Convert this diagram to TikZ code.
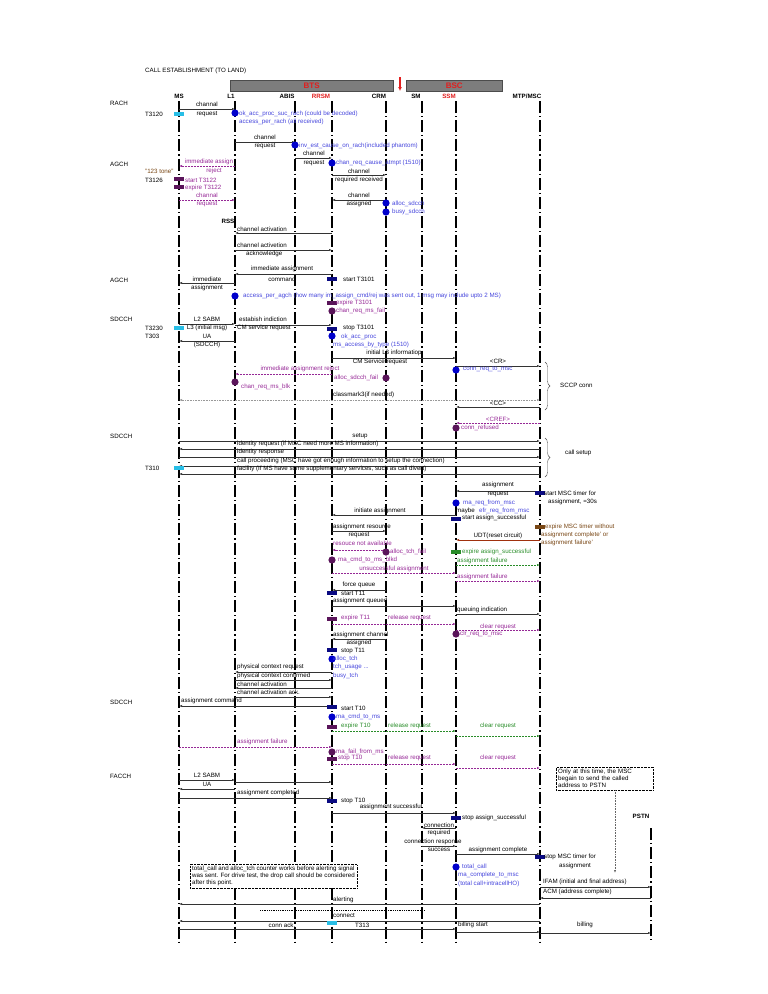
\documentclass[tikz,border=0pt]{standalone}
\usepackage{fontspec}
\setmainfont{Liberation Sans}
\usetikzlibrary{arrows.meta,decorations.pathreplacing}
\definecolor{blueT}{RGB}{70,70,220}
\definecolor{purp}{RGB}{150,40,150}
\definecolor{dpurp}{RGB}{90,20,90}
\definecolor{navy}{RGB}{10,10,130}
\definecolor{grn}{RGB}{40,140,40}
\definecolor{brn}{RGB}{120,70,20}
\definecolor{redH}{RGB}{225,30,30}
\definecolor{cyanB}{RGB}{40,190,230}
\definecolor{hdr}{RGB}{125,125,125}
\tikzset{
 lbl/.style={inner sep=0pt,font=\fontsize{6.2}{7}\selectfont},
 life/.style={line width=1.6pt,dash pattern=on 12pt off 3pt on 1.2pt off 3pt},
 arr/.style={-{Latex[length=3pt,width=2.2pt]},line width=0.6pt,black!80},
 dpu/.style={arr,purp,dashed,dash pattern=on 2pt off 1pt},
 dgr/.style={arr,grn,dashed,dash pattern=on 2pt off 1pt},
}
\newcommand\M[4][]{\draw[arr,#1] (#2 |- 0,#4) -- (#3 |- 0,#4);}
\newcommand\tx[4][]{\node[lbl,anchor=west,#1] at (#2,#3) {#4};}
\newcommand\tc[4][]{\node[lbl,#1] at (#2,#3) {#4};}
\newcommand\tbar[3][navy]{\fill[#1] (#2 |- 0,#3) ++(-5,-2) rectangle ++(10,4);}
\newcommand\tdot[3][blue!80!black]{\fill[#1] (#2 |- 0,#3) circle (3.6);}
\begin{document}
\begin{tikzpicture}[x=1pt,y=-1pt]
\useasboundingbox (0,0) rectangle (768,994);
\coordinate (ms) at (179,0); \coordinate (l1) at (235,0); \coordinate (abis) at (295,0);
\coordinate (rrsm) at (332,0); \coordinate (crm) at (386,0); \coordinate (sm) at (422,0);
\coordinate (ssm) at (456,0); \coordinate (msc) at (540,0); \coordinate (pstn) at (651,0);
% header
\tx{145}{71}{CALL ESTABLISHMENT (TO LAND)}
\node[draw=black!70,fill=hdr,minimum width=163pt,minimum height=11pt,inner sep=0pt,anchor=north west] (bts) at (230,80) {};
\node[draw=black!70,fill=hdr,minimum width=96pt,minimum height=11pt,inner sep=0pt,anchor=north west] (bsc) at (406,80) {};
\node[lbl,text=redH,font=\fontsize{8}{9}\selectfont\bfseries] at (bts) {BTS};
\node[lbl,text=redH,font=\fontsize{8}{9}\selectfont\bfseries] at (bsc) {BSC};
\draw[-{Latex[length=4pt,width=4pt]},redH,line width=1.2pt] (400,77) -- (400,91);
\foreach \n/\x/\c in {MS/179/black,L1/231/black,ABIS/287/black,RRSM/321/redH,CRM/379/black,SM/416/black,SSM/449/redH,{MTP/MSC}/527/black}
  \node[lbl,text=\c,font=\fontsize{6.2}{7}\selectfont\bfseries] at (\x,96) {\n};
\node[lbl,font=\fontsize{6.2}{7}\selectfont\bfseries] at (641,816) {PSTN};
\foreach \l in {ms,l1,abis,rrsm,crm,sm,ssm,msc} \draw[life] (\l |- 0,101) -- (\l |- 0,942);
\draw[life] (pstn |- 0,828) -- (pstn |- 0,942);
% left labels
\tx{110}{103}{RACH} \tx{145}{114}{T3120} \tx{110}{164}{AGCH}
\tx[text=brn]{145}{171}{"123 tone"} \tx{145}{180}{T3126}
\tx{110}{280}{AGCH} \tx{110}{319}{SDCCH} \tx{145}{328}{T3230} \tx{145}{336}{T303}
\tx{110}{436}{SDCCH} \tx{145}{468}{T310} \tx{110}{702}{SDCCH} \tx{110}{776}{FACCH}
% RACH
\M{ms}{l1}{109} \tc{207}{104}{channal} \tc{207}{114}{request}
\tbar[cyanB]{ms}{114}
\tdot{l1}{113} \tx[text=blueT]{239}{114}{ok\_acc\_proc\_suc\_rach (could be decoded)}
\tx[text=blueT]{239}{122}{access\_per\_rach (all received)}
\M{l1}{abis}{142} \tc{265}{137}{channel} \tc{265}{146}{request}
\tdot{abis}{145} \tx[text=blueT]{299}{146}{inv\_est\_cause\_on\_rach(included phantom)}
\M{abis}{rrsm}{158} \tc{314}{153}{channel} \tc{314}{163}{request}
\tdot{rrsm}{163} \tx[text=blueT]{336}{163}{chan\_req\_cause\_atmpt (1510)}
\M[dpu]{l1}{ms}{166} \tc[text=purp]{209}{162}{immediate assign} \tc[text=purp]{214}{171}{reject}
\M{rrsm}{crm}{175} \tc{359}{171}{channel} \tc{359}{180}{required received}
\tbar[dpurp]{ms}{179} \tx[text=purp]{185}{180}{start T3122}
\tbar[dpurp]{ms}{187} \tx[text=purp]{185}{188}{expire T3122}
\M[dpu]{ms}{l1}{200} \tc[text=purp]{207}{195}{channal} \tc[text=purp]{207}{204}{request}
\M{crm}{rrsm}{200} \tc{359}{195}{channel} \tc{359}{204}{assigned}
\tdot{crm}{203} \tx[text=blueT]{392}{204}{alloc\_sdcch}
\tdot{crm}{212} \tx[text=blueT]{392}{212}{busy\_sdcch}
\node[lbl,font=\fontsize{6.2}{7}\selectfont\bfseries] at (228,221) {RSS};
\M{rrsm}{l1}{233} \tx{237}{229}{channel activation}
\M{l1}{rrsm}{250} \tx{237}{245}{channel activetion} \tx{246}{254}{acknowledge}
% AGCH
\M{rrsm}{l1}{274} \tc{282}{269}{immediate assignment} \tc{282}{279}{command}
\tbar{rrsm}{279} \tx{343}{279}{start T3101}
\M{l1}{ms}{283} \tc{207}{279}{immediate} \tc{207}{288}{assignment}
\tdot{l1}{296} \tx[text=blueT]{243}{296}{access\_per\_agch (how many im\_assign\_cmd/rej was sent out, 1 msg may include upto 2 MS)}
\tbar[dpurp]{rrsm}{303} \tx[text=purp]{336}{303}{expire T3101}
\tdot[dpurp]{rrsm}{311} \tx[text=purp]{336}{311}{chan\_req\_ms\_fail}
% SDCCH
\M{ms}{l1}{324} \tc{207}{319}{L2 SABM} \tc{207}{328}{L3 (initial msg)}
\M{l1}{rrsm}{325} \tx{239}{319}{estabish indiction} \tx{237}{328}{CM service request}
\tbar[cyanB]{ms}{328} \tbar{rrsm}{329} \tx{343}{328}{stop T3101}
\M{l1}{ms}{341} \tc{207}{336}{UA} \tc{207}{345}{(SDCCH)}
\tdot{rrsm}{336} \tx[text=blueT]{341}{337}{ok\_acc\_proc} \tx[text=blueT]{333}{345}{ms\_access\_by\_type (1510)}
\M{rrsm}{ssm}{358} \tc{394}{353}{initial L3 informatiop} \tc{380}{362}{CM Service request}
\M{ssm}{msc}{366} \tc{498}{361}{<CR>}
\tdot{ssm}{370} \tx[text=blueT]{463}{369}{conn\_req\_to\_msc}
\M[dpu]{rrsm}{l1}{374} \tc[text=purp]{300}{369}{immediate assignment reject}
\tx[text=purp]{334}{378}{alloc\_sdcch\_fail} \tdot[dpurp]{crm}{378}
\tdot[dpurp]{l1}{382} \tx[text=purp]{241}{387}{chan\_req\_ms\_blk}
\draw[arr,black!40,densely dotted,<->,>={Latex[length=3pt,width=2.2pt]}] (ms |- 0,400) -- (msc |- 0,400);
\tx{333}{395}{classmark3(if needed)}
\M{msc}{ssm}{407} \tc{498}{403}{<CC>}
\draw[decorate,decoration={brace,amplitude=5pt},black!70] (545,362) -- (545,410);
\tx{560}{385}{SCCP conn}
\M[dpu]{msc}{ssm}{423} \tc[text=purp]{498}{419}{<CREF>}
\tdot[dpurp]{ssm}{428} \tx[text=purp]{461}{428}{conn\_refused}
% call setup
\M{ms}{msc}{441} \tc{360}{436}{setup}
\M{msc}{ms}{449} \tx{237}{444}{identity request (if MSC need more MS information)}
\M{ms}{msc}{457} \tx{237}{452}{identity response}
\M{msc}{ms}{466} \tx{237}{461}{call proceeding (MSC have got enough information to setup the connection)}
\M{msc}{ms}{474} \tx{237}{469}{facility (If MS have some supplementary services, such as call divert)}
\tbar[cyanB]{ms}{468}
\draw[decorate,decoration={brace,amplitude=5pt},black!70] (545,438) -- (545,477);
\tx{565}{453}{call setup}
% assignment
\M{msc}{ssm}{491} \tc{498}{485}{assignment} \tc{498}{494}{request}
\tbar{msc}{493} \tx{544}{493}{start MSC timer for} \tx{548}{502}{assignment, =30s}
\tdot{ssm}{503} \tx[text=blueT]{463}{503}{ma\_req\_from\_msc}
\tx{456}{511}{maybe} \tx[text=blueT]{479}{511}{efr\_req\_from\_msc}
\M{ssm}{rrsm}{515} \tc{380}{511}{initiate assignment}
\tbar{ssm}{519} \tx{462}{518}{start assign\_successful}
\M{rrsm}{crm}{531} \tx{333}{527}{assignment resource} \tc{359}{535}{request}
\tbar[brn]{msc}{527} \tx[text=brn]{545}{527}{expire MSC timer without}
\tx[text=brn]{541}{535}{assignment complete' or} \tx[text=brn]{541}{543}{assignment failure'}
\M[brn!70!red]{msc}{ssm}{540} \tc{498}{536}{UDT(reset circuit)}
\M[dpu]{crm}{rrsm}{550} \tx[text=purp]{333}{543}{resouce not available}
\tdot[dpurp]{crm}{552} \tx[text=purp]{390}{552}{alloc\_tch\_fail}
\tdot[dpurp]{rrsm}{560} \tx[text=purp]{338}{560}{ma\_cmd\_to\_ms\_blkd}
\tbar[grn]{ssm}{552} \tx[text=grn]{462}{552}{expire assign\_successful}
\M[dgr]{ssm}{msc}{565} \tx[text=grn]{457}{561}{assignment failure}
\M[dpu]{rrsm}{ssm}{573} \tc[text=purp]{394}{569}{unsuccessful assignment}
\M[dpu]{ssm}{msc}{581} \tx[text=purp]{457}{577}{assignment failure}
\M{crm}{rrsm}{590} \tc{359}{585}{force queue}
\tbar{rrsm}{593} \tx{341}{593}{start T11}
\M{rrsm}{ssm}{606} \tx{333}{601}{assignment queued}
\M{ssm}{msc}{614} \tx{457}{610}{queuing indication}
\tbar[dpurp]{rrsm}{619} \tx[text=purp]{341}{618}{expire T11}
\M[dpu]{rrsm}{ssm}{624} \tx[text=purp]{388}{618}{release request}
\M[dpu]{ssm}{msc}{630} \tc[text=purp]{498}{627}{clear request}
\tdot[dpurp]{ssm}{634} \tx[text=purp]{460}{634}{clr\_req\_to\_msc}
\M{crm}{rrsm}{639} \tx{333}{635}{assignment channel} \tc{359}{643}{assigned}
\tbar{rrsm}{650} \tx{341}{651}{stop T11}
\tdot{rrsm}{659} \tx[text=blueT]{333}{659}{alloc\_tch}
\tx[text=blueT]{333}{667}{tch\_usage ...} \tx[text=blueT]{333}{676}{busy\_tch}
\M{rrsm}{l1}{672} \tx{237}{667}{physical context request}
\M{l1}{rrsm}{680} \tx{237}{676}{physical context confirmed}
\M{rrsm}{l1}{688} \tx{237}{684}{channel activation}
\M{l1}{rrsm}{697} \tx{237}{692}{channel activation ack.}
\M{rrsm}{ms}{706} \tx{181}{701}{assignment command}
\tbar{rrsm}{707} \tx{341}{708}{start T10}
\tdot{rrsm}{717} \tx[text=blueT]{336}{717}{ma\_cmd\_to\_ms}
\tbar[dpurp]{rrsm}{727} \tx[text=grn]{341}{726}{expire T10}
\M[dgr]{rrsm}{ssm}{731} \tx[text=grn]{388}{726}{release request}
\M[dgr]{ssm}{msc}{736} \tc[text=grn]{498}{726}{clear request}
\M[dpu]{ms}{rrsm}{747} \tx[text=purp]{237}{742}{assignment failure}
\tdot[dpurp]{rrsm}{752} \tx[text=purp]{336}{752}{ma\_fail\_from\_ms}
\tbar[dpurp]{rrsm}{759} \tx[text=purp]{338}{758}{stop T10}
\M[dpu]{rrsm}{ssm}{764} \tx[text=purp]{388}{758}{release request}
\M[dpu]{ssm}{msc}{768} \tc[text=purp]{498}{758}{clear request}
% note
\node[lbl,draw,densely dotted,anchor=north west,align=left,inner sep=2pt,text width=93pt] (n1) at (556,767) {Only at this time, the MSC\\begain to send the called\\address to PSTN};
\draw[arr,densely dotted,black!60] (n1.south -| 615,0) -- (615,873);
% FACCH
\M{ms}{l1}{780} \tc{207}{775}{L2 SABM} \M{l1}{rrsm}{782}
\M{l1}{ms}{789} \tc{207}{784}{UA}
\M{ms}{rrsm}{798} \tx{237}{793}{assignment completed}
\tbar{rrsm}{801} \tx{341}{801}{stop T10}
\M{rrsm}{ssm}{813} \tc{391}{807}{assignment successful}
\tbar{ssm}{818} \tx{462}{818}{stop assign\_successful}
\draw[arr] (ssm |- 0,828) -- (sm |- 0,828); \tc{439}{825}{connection} \tc{439}{833}{required}
\M{sm}{ssm}{846} \tc{433}{842}{connection response} \tc{439}{850}{success}
\M{ssm}{msc}{854} \tc{498}{850}{assignment complete}
\tbar{msc}{857} \tx{544}{857}{stop MSC timer for} \tx{559}{866}{assignment}
\tdot{ssm}{867} \tx[text=blueT]{462}{867}{total\_call}
\tx[text=blueT]{458}{875}{ma\_complete\_to\_msc} \tx[text=blueT]{458}{884}{(total call+intracellHO)}
\node[lbl,draw,densely dotted,anchor=north west,align=left,inner sep=2pt,fill=white] (n2) at (190,864) {total\_call and alloc\_tch counter works before alerting signal\\was sent.  For drive test, the drop call should be considered\\after this point.};
\M{msc}{pstn}{887} \tx{543}{882}{IFAM (initial and final address)}
\M{pstn}{msc}{898} \tx{543}{892}{ACM (address complete)}
\M{msc}{ms}{904} \tx{333}{900}{alerting}
\draw[densely dotted,line width=0.8pt] (260,910) -- (424,910);
\M{msc}{ms}{921} \tx{333}{916}{connect}
\tbar[cyanB]{rrsm}{923} \tx{355}{925}{T313}
\M{ms}{ssm}{929} \tc{282}{925}{conn ack.}
\M{ssm}{msc}{932} \tx{458}{925}{billing start}
\M{msc}{pstn}{933} \tc{585}{925}{billing}
\end{tikzpicture}
\end{document}
